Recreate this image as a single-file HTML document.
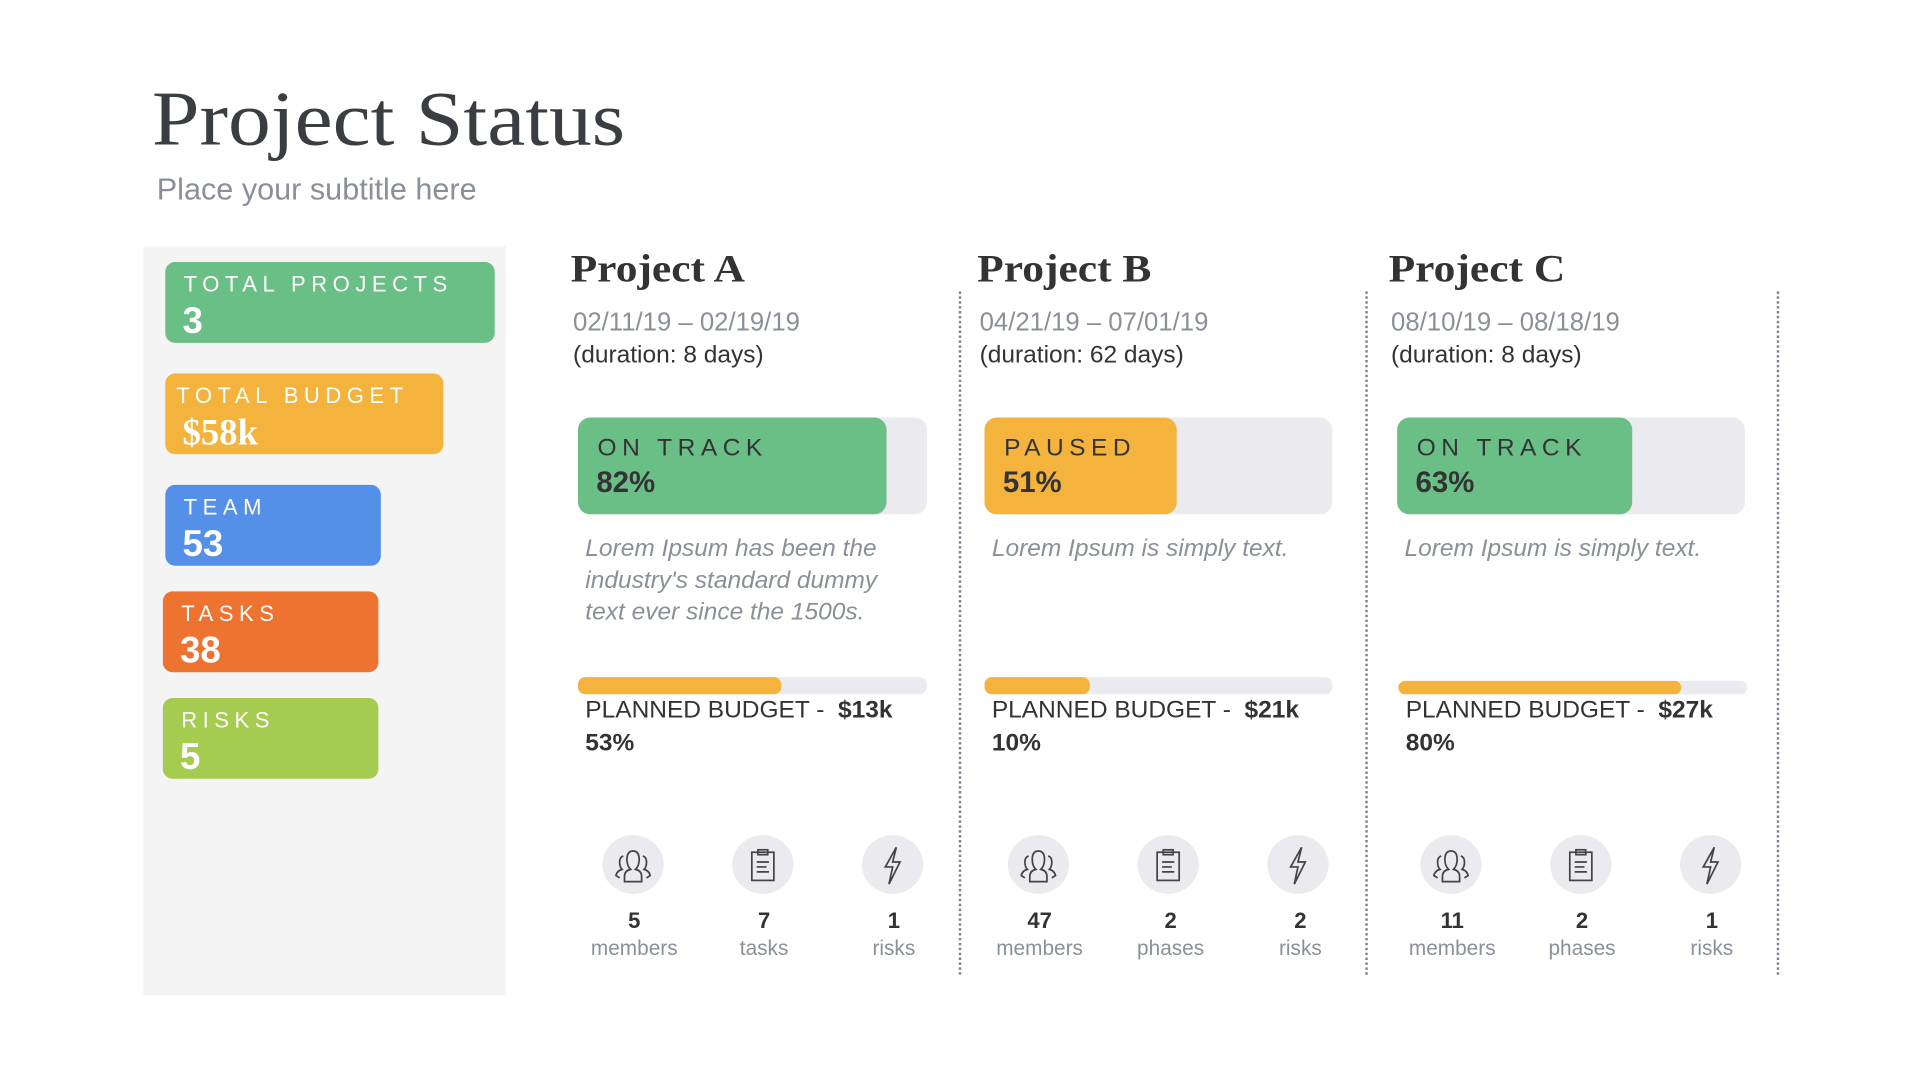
<!DOCTYPE html>
<html><head><meta charset="utf-8"><style>
html,body{margin:0;padding:0;width:1920px;height:1080px;overflow:hidden;background:#fff}
#s{position:absolute;left:0;top:0;width:1568px;height:882px;transform:scale(1.22449);transform-origin:0 0;font-family:"Liberation Sans",sans-serif}
.a{position:absolute;white-space:nowrap}
.serif{font-family:"Liberation Serif","DejaVu Serif",serif}
.wide{transform:scaleX(1.11);transform-origin:0 0}
.card{position:absolute;border-radius:8px;color:#fff}
.card .l{position:absolute;left:15px;top:8px;font-size:18px;letter-spacing:4.5px}
.card .v{position:absolute;left:14px;top:32px;font-size:30px;font-weight:bold}
.bg{position:absolute;background:#ebebef;border-radius:10px}
.fill{position:absolute;left:0;top:0;bottom:0;border-radius:10px}
.st{position:absolute;left:16px;top:14px;font-size:20px;letter-spacing:4.5px;color:#333}
.pc{position:absolute;left:15px;top:40px;font-size:24px;font-weight:bold;color:#333}
.ic{position:absolute;width:50px;height:48px;border-radius:50%;background:#ebebef}
.ic svg{position:absolute;left:10px;top:9px}
.n{position:absolute;width:100px;text-align:center;font-size:18px;font-weight:bold;color:#333}
.t{position:absolute;width:100px;text-align:center;font-size:17px;color:#8a8f99}
.dot{position:absolute;top:238px;height:558px;width:0;border-left:2.5px dotted #7d8290}
</style></head><body><div id="s">
<div class="a serif wide" style="left:124px;top:61px;font-size:63px;color:#3a3d42">Project Status</div>
<div class="a" style="left:128px;top:141px;font-size:25px;color:#8a8f99">Place your subtitle here</div>
<div style="position:absolute;left:117px;top:201px;width:296px;height:612px;background:#f4f4f4"></div>
<div class="card" style="left:135px;top:214px;width:269px;height:66px;background:#6abf86"><div class="l">TOTAL PROJECTS</div><div class="v">3</div></div>
<div class="card" style="left:135px;top:305px;width:227px;height:66px;background:#f3b33d"><div class="l" style="left:9px">TOTAL BUDGET</div><div class="v serif">$58k</div></div>
<div class="card" style="left:135px;top:396px;width:176px;height:66px;background:#5590e8"><div class="l">TEAM</div><div class="v">53</div></div>
<div class="card" style="left:133px;top:483px;width:176px;height:66px;background:#ee7230"><div class="l">TASKS</div><div class="v">38</div></div>
<div class="card" style="left:133px;top:570px;width:176px;height:66px;background:#a5cb50"><div class="l">RISKS</div><div class="v">5</div></div>

<div class="dot" style="left:783px"></div>
<div class="dot" style="left:1115px"></div>
<div class="dot" style="left:1451px"></div>

<!-- Project A -->
<div class="a serif wide" style="left:466px;top:201px;font-size:32px;font-weight:bold;color:#333">Project A</div>
<div class="a" style="left:468px;top:252px;font-size:21px;color:#8a8f99">02/11/19 – 02/19/19</div>
<div class="a" style="left:468px;top:279px;font-size:20px;color:#333">(duration: 8 days)</div>
<div class="bg" style="left:472px;top:341px;width:285px;height:79px"><div class="fill" style="width:252px;background:#6abf86"><div class="st">ON TRACK</div><div class="pc">82%</div></div></div>
<div class="a" style="left:478px;top:435px;font-size:20px;line-height:26px;font-style:italic;color:#8a8f99">Lorem Ipsum has been the<br>industry's standard dummy<br>text ever since the 1500s.</div>
<div class="bg" style="left:472px;top:553px;width:285px;height:14px;border-radius:6px"><div class="fill" style="width:166px;background:#f3b33d;border-radius:6px"></div></div>
<div class="a" style="left:478px;top:569px;font-size:20px;color:#333">PLANNED BUDGET -&nbsp; <b>$13k</b></div>
<div class="a" style="left:478px;top:596px;font-size:20px;font-weight:bold;color:#333">53%</div>

<!-- Project B -->
<div class="a serif wide" style="left:798px;top:201px;font-size:32px;font-weight:bold;color:#333">Project B</div>
<div class="a" style="left:800px;top:252px;font-size:21px;color:#8a8f99">04/21/19 – 07/01/19</div>
<div class="a" style="left:800px;top:279px;font-size:20px;color:#333">(duration: 62 days)</div>
<div class="bg" style="left:804px;top:341px;width:284px;height:79px"><div class="fill" style="width:157px;background:#f3b33d"><div class="st">PAUSED</div><div class="pc">51%</div></div></div>
<div class="a" style="left:810px;top:435px;font-size:20px;line-height:26px;font-style:italic;color:#8a8f99">Lorem Ipsum is simply text.</div>
<div class="bg" style="left:804px;top:553px;width:284px;height:14px;border-radius:6px"><div class="fill" style="width:86px;background:#f3b33d;border-radius:6px"></div></div>
<div class="a" style="left:810px;top:569px;font-size:20px;color:#333">PLANNED BUDGET -&nbsp; <b>$21k</b></div>
<div class="a" style="left:810px;top:596px;font-size:20px;font-weight:bold;color:#333">10%</div>

<!-- Project C -->
<div class="a serif wide" style="left:1134px;top:201px;font-size:32px;font-weight:bold;color:#333">Project C</div>
<div class="a" style="left:1136px;top:252px;font-size:21px;color:#8a8f99">08/10/19 – 08/18/19</div>
<div class="a" style="left:1136px;top:279px;font-size:20px;color:#333">(duration: 8 days)</div>
<div class="bg" style="left:1141px;top:341px;width:284px;height:79px"><div class="fill" style="width:192px;background:#6abf86"><div class="st">ON TRACK</div><div class="pc">63%</div></div></div>
<div class="a" style="left:1147px;top:435px;font-size:20px;line-height:26px;font-style:italic;color:#8a8f99">Lorem Ipsum is simply text.</div>
<div class="bg" style="left:1142px;top:556px;width:285px;height:11px;border-radius:6px"><div class="fill" style="width:231px;background:#f3b33d;border-radius:6px"></div></div>
<div class="a" style="left:1148px;top:569px;font-size:20px;color:#333">PLANNED BUDGET -&nbsp; <b>$27k</b></div>
<div class="a" style="left:1148px;top:596px;font-size:20px;font-weight:bold;color:#333">80%</div>

<!-- icons -->
<svg width="0" height="0" style="position:absolute"><defs>
<g id="pp" fill="none" stroke="#444" stroke-width="1.4"><path d="M8 29 L8 25 Q8 20 13 19 Q10 16 10 11 Q10 4 15 4 Q20 4 20 11 Q20 16 17 19 Q22 20 22 25 L22 29 Z"/><path d="M7 8 Q4 9 4 13 Q4 17 6 19 Q2 20 1 24 L4 26"/><path d="M23 8 Q26 9 26 13 Q26 17 24 19 Q28 20 29 24 L26 26"/></g>
<g id="cb" fill="none" stroke="#444" stroke-width="1.4"><rect x="6" y="5" width="18" height="23"/><rect x="11" y="3" width="8" height="4"/><path d="M10 13 H20 M10 17 H18 M10 21 H20"/></g>
<g id="bo" fill="none" stroke="#444" stroke-width="1.4"><path d="M18 1 L9 17 L15 17 L12 31 L21 13 L15 13 Z"/></g>
</defs></svg>
<div class="ic" style="left:492px;top:682px"><svg width="30" height="32"><use href="#pp"/></svg></div>
<div class="ic" style="left:598px;top:682px"><svg width="30" height="32"><use href="#cb"/></svg></div>
<div class="ic" style="left:704px;top:682px"><svg width="30" height="32"><use href="#bo"/></svg></div>
<div class="ic" style="left:823px;top:682px"><svg width="30" height="32"><use href="#pp"/></svg></div>
<div class="ic" style="left:929px;top:682px"><svg width="30" height="32"><use href="#cb"/></svg></div>
<div class="ic" style="left:1035px;top:682px"><svg width="30" height="32"><use href="#bo"/></svg></div>
<div class="ic" style="left:1160px;top:682px"><svg width="30" height="32"><use href="#pp"/></svg></div>
<div class="ic" style="left:1266px;top:682px"><svg width="30" height="32"><use href="#cb"/></svg></div>
<div class="ic" style="left:1372px;top:682px"><svg width="30" height="32"><use href="#bo"/></svg></div>

<div class="n" style="left:468px;top:742px">5</div><div class="t" style="left:468px;top:765px">members</div>
<div class="n" style="left:574px;top:742px">7</div><div class="t" style="left:574px;top:765px">tasks</div>
<div class="n" style="left:680px;top:742px">1</div><div class="t" style="left:680px;top:765px">risks</div>
<div class="n" style="left:799px;top:742px">47</div><div class="t" style="left:799px;top:765px">members</div>
<div class="n" style="left:906px;top:742px">2</div><div class="t" style="left:906px;top:765px">phases</div>
<div class="n" style="left:1012px;top:742px">2</div><div class="t" style="left:1012px;top:765px">risks</div>
<div class="n" style="left:1136px;top:742px">11</div><div class="t" style="left:1136px;top:765px">members</div>
<div class="n" style="left:1242px;top:742px">2</div><div class="t" style="left:1242px;top:765px">phases</div>
<div class="n" style="left:1348px;top:742px">1</div><div class="t" style="left:1348px;top:765px">risks</div>
</div></body></html>
